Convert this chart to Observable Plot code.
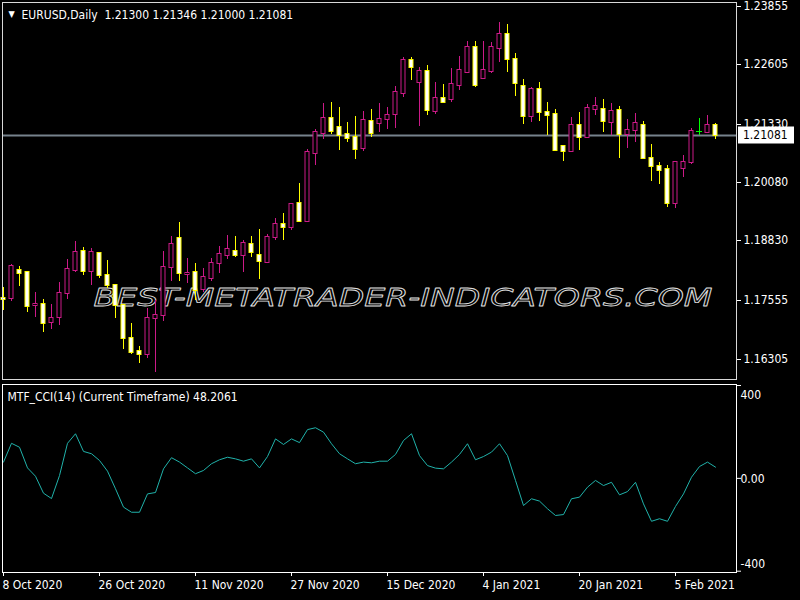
<!DOCTYPE html>
<html>
<head>
<meta charset="utf-8">
<script src="https://cdn.jsdelivr.net/npm/d3@7"></script>
<script src="https://cdn.jsdelivr.net/npm/@observablehq/plot@0.6"></script>
<style>
  body { margin: 0; background: #000; }
  #chart { position: relative; width: 800px; height: 600px; background: #000; overflow: hidden; }
  #chart svg { position: absolute; left: 0; }
  #chart svg text { font-family: "DejaVu Sans Condensed", "DejaVu Sans", sans-serif; font-stretch: condensed; }
  #sep { position: absolute; left: 0; top: 380px; width: 800px; height: 3px; background: #bdbdbd; }
</style>
</head>
<body>
<div id="chart"><div id="sep"></div></div>
<script>
// ---- data ----
const symbol = "EURUSD,Daily";
const cciName = "MTF_CCI(14) (Current Timeframe)";
const watermark = "BEST-METATRADER-INDICATORS.COM";

const open = [1.17600,1.17600,1.18199,1.18156,1.17450,1.17472,1.17087,1.17194,1.17707,1.18199,
1.18605,1.18177,1.18562,1.18092,1.17878,1.17450,1.16745,1.16467,1.16402,1.17172,
1.17236,1.18263,1.18883,1.18120,1.18156,1.17792,1.18028,1.18348,1.18520,1.18605,
1.18520,1.18755,1.18520,1.18370,1.18905,1.19183,1.19118,1.19632,1.19247,1.20701,
1.21129,1.21449,1.21257,1.21107,1.21043,1.20808,1.21385,1.21343,1.21428,1.21535,
1.21984,1.22690,1.22219,1.22455,1.21599,1.21877,1.21856,1.22155,1.22433,1.22968,
1.22305,1.22455,1.22946,1.23246,1.22711,1.22134,1.21492,1.22070,1.21578,1.21535,
1.20851,1.20744,1.21300,1.21043,1.21642,1.21642,1.21364,1.21621,1.21107,1.21193,
1.21300,1.20594,1.20423,1.20359,1.19632,1.20380,1.20508,1.21171,1.21150,1.21300];

const high = [1.17835,1.18327,1.18284,1.18177,1.17728,1.17579,1.17472,1.17942,1.18434,1.18819,
1.18691,1.18669,1.18580,1.18413,1.17899,1.17472,1.17065,1.16573,1.17386,1.17557,
1.18605,1.18926,1.19225,1.18455,1.18348,1.18242,1.18455,1.18712,1.18947,1.18926,
1.18840,1.18926,1.19076,1.18969,1.19311,1.19418,1.19632,1.20059,1.20786,1.21214,
1.21770,1.21792,1.21685,1.21364,1.21492,1.21599,1.21642,1.21770,1.21685,1.22134,
1.22754,1.22760,1.22540,1.22583,1.22219,1.22177,1.22519,1.22775,1.23096,1.23096,
1.23096,1.23075,1.23503,1.23460,1.22840,1.22284,1.22112,1.22219,1.21792,1.21642,
1.20872,1.21471,1.21578,1.21749,1.21899,1.21856,1.21770,1.21706,1.21428,1.21556,
1.21385,1.20893,1.20508,1.20444,1.20520,1.20658,1.21236,1.21449,1.21514,1.21346];

const low = [1.17343,1.17536,1.17857,1.17301,1.17194,1.16873,1.16937,1.17023,1.17579,1.18156,
1.18092,1.17878,1.18028,1.17814,1.17172,1.16509,1.16402,1.16210,1.16317,1.16017,
1.17108,1.17964,1.17964,1.17921,1.17557,1.17728,1.17964,1.18135,1.18434,1.18477,
1.18156,1.18477,1.18006,1.18348,1.18840,1.18840,1.19054,1.19225,1.19230,1.20444,
1.21000,1.21107,1.20765,1.20936,1.20573,1.20744,1.21043,1.21150,1.21214,1.21236,
1.21899,1.22262,1.21278,1.21514,1.21535,1.21770,1.21792,1.22048,1.22420,1.22112,
1.22284,1.22412,1.22647,1.22433,1.21920,1.21321,1.21364,1.21385,1.21086,1.20744,
1.20530,1.20722,1.20765,1.21030,1.21514,1.21150,1.21086,1.20594,1.20808,1.20936,
1.20573,1.20102,1.20038,1.19546,1.19525,1.20188,1.20466,1.21086,1.21129,1.21000];

const close = [1.17579,1.18284,1.18135,1.17429,1.17472,1.17065,1.17172,1.17707,1.18220,1.18584,
1.18177,1.18584,1.18092,1.17878,1.17450,1.16745,1.16445,1.16402,1.17172,1.17236,
1.18263,1.18755,1.18135,1.18145,1.17771,1.18049,1.18348,1.18541,1.18648,1.18520,
1.18776,1.18584,1.18391,1.18905,1.19183,1.19118,1.19610,1.19247,1.20722,1.21150,
1.21449,1.21171,1.21086,1.21022,1.20786,1.21407,1.21129,1.21428,1.21514,1.22005,
1.22690,1.22540,1.22455,1.21621,1.21877,1.21792,1.22177,1.22476,1.22968,1.22155,
1.22476,1.22968,1.23246,1.22711,1.22198,1.21492,1.22070,1.21578,1.21514,1.20765,
1.20744,1.21300,1.21043,1.21663,1.21706,1.21385,1.21599,1.21107,1.21193,1.21343,
1.20594,1.20423,1.20337,1.19632,1.20508,1.20508,1.21171,1.21171,1.21300,1.21081];

const cci = [70,151,134,45,9,-64,-87,12,151,192,
116,106,77,31,-45,-124,-146,-146,-67,-61,
41,89,70,45,20,34,63,80,91,84,
74,84,45,94,170,146,170,154,210,218,
199,149,106,84,63,70,67,74,74,103,
163,192,98,55,44,41,70,103,149,80,
94,113,149,98,-9,-117,-88,-98,-131,-160,
-156,-88,-81,-38,-9,-31,-17,-71,-57,-17,
-110,-185,-174,-185,-121,-67,5,51,70,48.2061];

const priceTicks = [1.23855, 1.22605, 1.21330, 1.20080, 1.18830, 1.17555, 1.16305];
const cciLevels = [400, 0, -400];
const dateTickIdx = [0, 12, 24, 36, 48, 60, 72, 84];
const dateLabels = ["8 Oct 2020", "26 Oct 2020", "11 Nov 2020", "27 Nov 2020", "15 Dec 2020", "4 Jan 2021", "20 Jan 2021", "5 Feb 2021"];

// ---- build ----
const MAG = "#cc1a88", YEL = "#ffff00", GRN = "#00ff00", CCI_COLOR = "#20b2aa";
const candles = open.map((o, i) => ({i, o, h: high[i], l: low[i], c: close[i]}));
const bull = candles.filter(d => d.c > d.o);
const bear = candles.filter(d => d.c < d.o);
const doji = candles.filter(d => d.c === d.o);
const last = candles[candles.length - 1];
const fmt5 = d3.format(".5f");
const xDomain = [-0.125, 91.625];
const header = `${symbol}  ${fmt5(last.o)} ${fmt5(last.h)} ${fmt5(last.l)} ${fmt5(last.c)}`;
const cciHeader = `${cciName} ${d3.format(".4f")(cci[cci.length - 1])}`;
const baseStyle = {background: "black", color: "white", fontSize: "12px"};

const priceBox = (index, scales, values, dimensions) => {
  const y = Math.round(scales.y(last.c));
  const x0 = dimensions.width - dimensions.marginRight + 2;
  const g = d3.create("svg:g");
  g.append("rect").attr("x", x0).attr("y", y - 8.5).attr("width", 56).attr("height", 17).attr("fill", "white");
  g.append("text").attr("x", x0 + 5).attr("y", y).attr("dy", "0.36em").attr("fill", "black")
    .attr("text-anchor", "start").attr("font-size", 12).text(fmt5(last.c));
  return g.node();
};

const main = Plot.plot({
  width: 800, height: 380,
  marginLeft: 2, marginRight: 64, marginTop: 2, marginBottom: 1,
  style: baseStyle,
  x: {domain: xDomain, axis: null, round: true},
  y: {domain: [1.15868, 1.23930], axis: "right", ticks: priceTicks, tickFormat: fmt5,
      tickSize: 4, tickPadding: 3, label: null, round: true},
  marks: [
    Plot.text([watermark], {frameAnchor: "top-left", dx: 400.5, dy: 295, textAnchor: "middle",
      lineAnchor: "middle", fontSize: 25, fontStyle: "italic", fill: "none", stroke: "#e0e0e0",
      strokeWidth: 0.8, paintOrder: "normal"}),
    Plot.ruleY([last.c], {stroke: "#76828c", strokeWidth: 2}),
    Plot.ruleX(bull, {x: "i", y1: "l", y2: "h", stroke: MAG}),
    Plot.ruleX(bear, {x: "i", y1: "l", y2: "h", stroke: YEL}),
    Plot.ruleX(doji, {x: "i", y1: "l", y2: "h", stroke: GRN}),
    Plot.rect(bull, {x1: d => d.i - 0.25, x2: d => d.i + 0.25, y1: "o", y2: "c",
      fill: "black", stroke: MAG, insetTop: -0.5, insetBottom: -0.5}),
    Plot.rect(bear, {x1: d => d.i - 0.25, x2: d => d.i + 0.25, y1: "o", y2: "c",
      fill: "white", stroke: YEL, insetTop: -0.5, insetBottom: -0.5}),
    Plot.ruleY(doji, {y: "o", x1: d => d.i - 0.375, x2: d => d.i + 0.375, stroke: GRN}),
    Plot.frame({stroke: "#d8d8d8"}),
    Plot.text(["▼"], {frameAnchor: "top-left", dx: 9, dy: 12, textAnchor: "middle", lineAnchor: "middle", fontSize: 9}),
    Plot.text([header], {frameAnchor: "top-left", dx: 19, dy: 13, textAnchor: "start", lineAnchor: "middle"}),
    priceBox
  ]
});
main.style.top = "0px";

const cciPts = cci.map((v, i) => ({i, v}));
const sub = Plot.plot({
  width: 800, height: 220,
  marginLeft: 2, marginRight: 64, marginTop: 4, marginBottom: 28,
  style: baseStyle,
  x: {domain: xDomain, ticks: dateTickIdx, tickFormat: () => "", tickSize: 4, label: null, round: true},
  y: {domain: [-405.6, 404.3], axis: "right", ticks: cciLevels, tickFormat: () => "", tickSize: 4, label: null},
  marks: [
    Plot.line(cciPts, {x: "i", y: "v", stroke: CCI_COLOR, strokeWidth: 1}),
    Plot.frame({stroke: "white"}),
    Plot.text(dateTickIdx, {x: d => d, text: (d, j) => dateLabels[j], frameAnchor: "bottom",
      dy: 13, dx: -1, textAnchor: "start", lineAnchor: "middle"}),
    Plot.text([cciLevels[0]], {frameAnchor: "top-right", text: d => String(d), dx: 4, dy: 6,
      lineAnchor: "top", textAnchor: "start"}),
    Plot.text([cciLevels[1]], {y: d => d, frameAnchor: "right", text: d => d3.format(".2f")(d),
      dx: 4, dy: 1, textAnchor: "start", lineAnchor: "middle"}),
    Plot.text([cciLevels[2]], {frameAnchor: "bottom-right", text: d => String(d), dx: 4, dy: -5,
      lineAnchor: "bottom", textAnchor: "start"}),
    Plot.text([cciHeader], {frameAnchor: "top-left", dx: 5, dy: 13, textAnchor: "start", lineAnchor: "middle"})
  ]
});
sub.style.top = "380px";

const chart = document.getElementById("chart");
chart.appendChild(main);
chart.appendChild(sub);

// stretch the watermark text to its width in the reference
main.querySelectorAll("text").forEach(t => {
  if (t.textContent === watermark) {
    t.setAttribute("textLength", 619);
    t.setAttribute("lengthAdjust", "spacingAndGlyphs");
    t.style.fontStretch = "normal";
    t.style.fontFamily = '"DejaVu Sans", sans-serif';
  }
});
</script>
</body>
</html>
